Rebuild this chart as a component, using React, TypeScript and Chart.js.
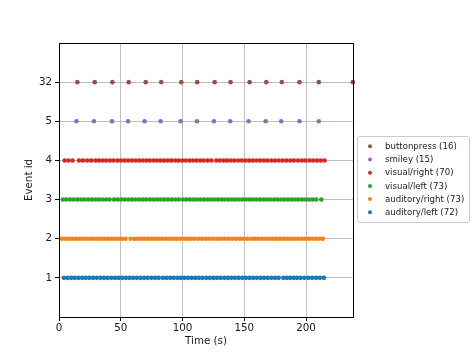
import React, { useEffect, useRef } from 'react';
import { Chart, registerables } from 'chart.js';

Chart.register(...registerables);

const eventNames = ['auditory/left', 'auditory/right', 'visual/left', 'visual/right', 'smiley', 'buttonpress'];
const eventIds = ['1', '2', '3', '4', '5', '32'];
const colors = ['#1f77b4', '#ff7f0e', '#2ca02c', '#d62728', '#9467bd', '#8c564b'];

const auditoryLeft = [
  4.0, 7.0, 9.9, 12.8, 15.8, 18.8, 21.7, 24.6, 27.6, 30.6, 33.5, 36.4, 39.4, 42.4, 45.3, 48.2, 51.2, 54.2, 57.1, 60.0,
  63.0, 66.0, 68.9, 71.8, 74.8, 77.8, 80.7,
  84.1, 87.0, 90.0, 92.9, 95.8, 98.7, 101.6, 104.5, 107.5, 110.4, 113.3, 116.2, 119.2, 122.1, 125.0, 127.9, 130.8, 133.8, 136.7,
  139.5, 142.4, 145.4, 148.3, 151.3, 154.2, 157.2, 160.1, 163.1, 166.0, 169.0, 171.9, 174.9, 177.8,
  181.6, 184.4, 187.1, 189.9, 192.6,
  195.5, 198.6, 201.8, 204.9, 208.1, 211.2, 214.4,
];
const auditoryRight = [
  2.4, 5.2, 8.1, 10.9, 13.8, 16.6, 19.5, 22.3, 25.2, 28.0, 30.9, 33.7, 36.6, 39.4, 42.3, 45.1, 48.0, 50.8, 53.7,
  58.0, 60.9, 63.8, 66.6, 69.5, 72.4, 75.3, 78.1, 81.0, 83.9, 86.8, 89.7, 92.5, 95.4, 98.3, 101.2, 104.0, 106.9, 109.8,
  113.0, 116.0, 119.1, 122.1, 125.1, 128.2, 131.2, 134.2, 137.3, 140.3, 143.3, 146.4, 149.4, 152.4,
  155.7, 158.6, 161.5, 164.4, 167.3, 170.2, 173.1, 176.0, 178.9, 181.8, 184.7, 187.6, 190.5, 193.4, 196.3, 199.2, 202.0,
  204.9, 207.8, 210.7, 213.6,
];
const visualLeft = [
  3.2, 6.1, 9.0, 11.9, 14.8, 17.8, 20.6, 23.6, 26.5, 29.4, 32.3, 35.2, 38.1, 41.0,
  44.5, 47.4, 50.3, 53.3, 56.2, 59.1, 62.0, 64.9, 67.9, 70.8, 73.7, 76.6, 79.5, 82.4, 85.3, 88.2, 91.2, 94.1, 97.0,
  100.3, 103.1, 106.0, 108.8, 111.6, 114.5, 117.3, 120.1, 123.0, 125.8, 128.7, 131.5, 134.3, 137.2, 140.0, 142.8, 145.7,
  148.5, 151.4, 154.2, 157.0, 159.9, 162.7, 165.5, 168.4, 171.2, 174.1, 176.9, 179.7, 182.6, 185.4, 188.2, 191.1, 193.9,
  196.8, 199.6, 202.4, 205.3, 208.2,
  212.3,
];
const visualRight = [
  4.5, 7.6, 11.0,
  16.2, 19.4, 22.8, 26.0,
  29.4, 32.3, 35.4, 38.2, 41.3, 44.1, 47.2, 50.0, 53.1, 56.0, 59.0, 62.1, 65.0, 68.0,
  70.7, 73.5, 76.5, 79.3, 82.3, 85.2, 88.1, 91.0, 94.0, 96.8, 99.8, 102.6, 105.6, 108.5, 111.4, 114.4, 117.2, 120.3, 123.3,
  127.3, 130.2, 133.3, 136.1, 139.2, 142.0, 145.1, 148.0, 151.0, 153.9, 156.9, 159.9, 162.8, 165.9,
  168.6, 171.8, 174.8, 177.9, 181.0, 184.0, 187.2, 190.2, 193.4,
  196.6, 199.6, 202.8, 205.8, 208.9, 211.9, 215.0,
];
const smiley = [14.1, 28.3, 42.9, 55.9, 69.3, 82.3, 98.4, 111.7, 125.4, 138.6, 153.5, 167.3, 179.9, 194.7, 210.3];
const buttonpress = [14.9, 28.9, 43.2, 56.4, 70.2, 82.8, 99.0, 111.9, 126.0, 138.9, 154.3, 167.8, 180.4, 194.7, 210.3, 237.9];

const xTicks = [0, 50, 100, 150, 200];
const yTicks = [1, 2, 3, 4, 5, 6];
const xMax = 238;
const yMax = 7;

const FONT = '"DejaVu Sans", sans-serif';

const framePlugin = {
  id: 'frame',
  afterDatasetsDraw(chart: any) {
    const { ctx, chartArea: a } = chart;
    ctx.save();
    ctx.strokeStyle = '#000';
    ctx.lineWidth = 1;
    ctx.strokeRect(Math.round(a.left) + 0.5, Math.round(a.top) + 0.5, Math.round(a.right - a.left), Math.round(a.bottom - a.top));
    ctx.restore();
  },
};

const legendPlugin = {
  id: 'boxLegend',
  afterDraw(chart: any) {
    const { ctx } = chart;
    const datasets = chart.data.datasets;
    const x0 = 357.5;
    const y0 = 136.5;
    const w = 112;
    const h = 86;
    ctx.save();
    ctx.beginPath();
    (ctx as any).roundRect(x0, y0, w, h, 2.5);
    ctx.fillStyle = 'rgba(255,255,255,0.85)';
    ctx.fill();
    ctx.strokeStyle = '#cccccc';
    ctx.lineWidth = 1;
    ctx.stroke();
    ctx.font = `8.6px ${FONT}`;
    ctx.textBaseline = 'middle';
    ctx.textAlign = 'left';
    const n = datasets.length;
    for (let k = 0; k < n; k++) {
      const ds = datasets[n - 1 - k];
      const y = 146.3 + k * 13.2;
      ctx.beginPath();
      ctx.arc(370, y, 2, 0, Math.PI * 2);
      ctx.fillStyle = ds.backgroundColor;
      ctx.fill();
      ctx.fillStyle = '#1a1a1a';
      ctx.fillText(ds.label, 385, y + 0.5);
    }
    ctx.restore();
  },
};

export default function App() {
  const ref = useRef<HTMLCanvasElement>(null);
  useEffect(() => {
    document.body.style.margin = '0';
    const series = [auditoryLeft, auditoryRight, visualLeft, visualRight, smiley, buttonpress];
    const chart = new Chart(ref.current as HTMLCanvasElement, {
      type: 'scatter',
      data: {
        datasets: series.map((times, i) => ({
          label: `${eventNames[i]} (${times.length})`,
          data: times.map((t) => ({ x: t, y: i + 1 })),
          backgroundColor: colors[i],
          borderColor: colors[i],
          borderWidth: 0,
          pointRadius: 2.3,
          pointHoverRadius: 2.3,
          clip: false as any,
        })),
      },
      options: {
        responsive: false,
        animation: false,
        events: [],
        layout: { padding: { top: 43, right: 121, left: 0, bottom: 0 } },
        plugins: { legend: { display: false }, tooltip: { enabled: false } },
        scales: {
          x: {
            type: 'linear',
            min: 0,
            max: xMax,
            afterBuildTicks: (s: any) => {
              s.ticks = xTicks.map((v) => ({ value: v }));
            },
            afterFit: (s: any) => {
              s.height = 38;
            },
            grid: { color: '#b0b0b0', lineWidth: 0.8, tickColor: '#000', tickLength: 4, tickWidth: 1 },
            border: { display: true, color: '#000', width: 1 },
            ticks: { color: '#1a1a1a', font: { family: FONT, size: 10.3 }, padding: 1, maxRotation: 0 },
            title: { display: true, text: 'Time (s)', color: '#1a1a1a', font: { family: FONT, size: 10.3 }, padding: { top: 0, bottom: 7 } },
          },
          y: {
            type: 'linear',
            min: 0,
            max: yMax,
            afterBuildTicks: (s: any) => {
              s.ticks = yTicks.map((v) => ({ value: v }));
            },
            afterFit: (s: any) => {
              s.width = 59;
            },
            grid: { color: '#b0b0b0', lineWidth: 0.8, tickColor: '#000', tickLength: 4, tickWidth: 1 },
            border: { display: true, color: '#000', width: 1 },
            ticks: {
              color: '#1a1a1a',
              font: { family: FONT, size: 10.3 },
              padding: 3,
              callback: (v: any) => eventIds[Number(v) - 1] ?? '',
            },
            title: { display: true, text: 'Event id', color: '#1a1a1a', font: { family: FONT, size: 10.3 }, padding: { top: 23, bottom: 0 } },
          },
        },
      },
      plugins: [framePlugin, legendPlugin],
    });
    return () => chart.destroy();
  }, []);
  return (
    <div style={{ position: 'absolute', left: 0, top: 0, width: 474, height: 355 }}>
      <canvas ref={ref} width={474} height={355} style={{ display: 'block' }} />
    </div>
  );
}
